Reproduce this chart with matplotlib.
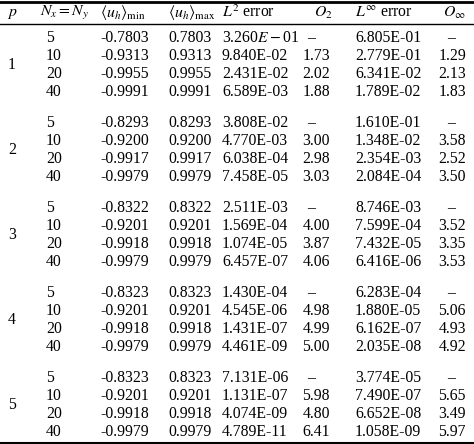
import matplotlib
matplotlib.use("Agg")
import matplotlib.pyplot as plt

plt.rcParams['font.family'] = ['Liberation Serif', 'DejaVu Serif']
plt.rcParams['mathtext.fontset'] = 'stix'

headers = [r'$p$', r'$N_x = N_y$', r'$\langle u_h\rangle_{\min}$', r'$\langle u_h\rangle_{\max}$',
           r'$L^2$ error', r'$O_2$', r'$L^\infty$ error', r'$O_\infty$']
p_values = ['1', '2', '3', '4', '5']
N_values = ['5', '10', '20', '40']
umin = [['-0.7803', '-0.9313', '-0.9955', '-0.9991'],
        ['-0.8293', '-0.9200', '-0.9917', '-0.9979'],
        ['-0.8322', '-0.9201', '-0.9918', '-0.9979'],
        ['-0.8323', '-0.9201', '-0.9918', '-0.9979'],
        ['-0.8323', '-0.9201', '-0.9918', '-0.9979']]
umax = [['0.7803', '0.9313', '0.9955', '0.9991'],
        ['0.8293', '0.9200', '0.9917', '0.9979'],
        ['0.8322', '0.9201', '0.9918', '0.9979'],
        ['0.8323', '0.9201', '0.9918', '0.9979'],
        ['0.8323', '0.9201', '0.9918', '0.9979']]
L2 = [[r'3.260$E-$01', '9.840E-02', '2.431E-02', '6.589E-03'],
      ['3.808E-02', '4.770E-03', '6.038E-04', '7.458E-05'],
      ['2.511E-03', '1.569E-04', '1.074E-05', '6.457E-07'],
      ['1.430E-04', '4.545E-06', '1.431E-07', '4.461E-09'],
      ['7.131E-06', '1.131E-07', '4.074E-09', '4.789E-11']]
O2 = [['–', '1.73', '2.02', '1.88'],
      ['–', '3.00', '2.98', '3.03'],
      ['–', '4.00', '3.87', '4.06'],
      ['–', '4.98', '4.99', '5.00'],
      ['–', '5.98', '4.80', '6.41']]
Linf = [['6.805E-01', '2.779E-01', '6.341E-02', '1.789E-02'],
        ['1.610E-01', '1.348E-02', '2.354E-03', '2.084E-04'],
        ['8.746E-03', '7.599E-04', '7.432E-05', '6.416E-06'],
        ['6.283E-04', '1.880E-05', '6.162E-07', '2.035E-08'],
        ['3.774E-05', '7.490E-07', '6.652E-08', '1.058E-09']]
Oinf = [['–', '1.29', '2.13', '1.83'],
        ['–', '3.58', '2.52', '3.50'],
        ['–', '3.52', '3.35', '3.53'],
        ['–', '5.06', '4.93', '4.92'],
        ['–', '5.65', '3.49', '5.97']]

W, H = 474, 444
fig = plt.figure(figsize=(W/100, H/100), dpi=100)
ax = fig.add_axes([0, 0, 1, 1])
ax.set_xlim(0, W); ax.set_ylim(H, 0); ax.axis('off')

fs = 11.3
hx = [12, 40, 100, 168, 222, 333, 355, 466]
hal = ['center', 'left', 'left', 'left', 'left', 'right', 'left', 'right']
for x, a, t in zip(hx, hal, headers):
    ax.text(x, 13, t, ha=a, va='center', fontsize=fs)

ax.plot([0, W], [2, 2], color='black', lw=2.0)
ax.plot([0, W], [24, 24], color='black', lw=1.0)
ax.plot([0, W], [443, 443], color='black', lw=1.5)

for g, p in enumerate(p_values):
    y0 = 38 + 85 * g
    ax.text(12, y0 + 27, p, ha='center', va='center', fontsize=fs)
    for r in range(4):
        y = y0 + 18 * r
        ax.text(46, y, N_values[r], ha='left', va='center', fontsize=fs)
        ax.text(100, y, umin[g][r], ha='left', va='center', fontsize=fs)
        ax.text(168, y, umax[g][r], ha='left', va='center', fontsize=fs)
        ax.text(222, y, L2[g][r], ha='left', va='center', fontsize=fs)
        if r == 0:
            ax.text(311, y, O2[g][r], ha='center', va='center', fontsize=fs)
            ax.text(451, y, Oinf[g][r], ha='center', va='center', fontsize=fs)
        else:
            ax.text(330, y, O2[g][r], ha='right', va='center', fontsize=fs)
            ax.text(466, y, Oinf[g][r], ha='right', va='center', fontsize=fs)
        ax.text(355, y, Linf[g][r], ha='left', va='center', fontsize=fs)

fig.savefig('out.png', dpi=100)
